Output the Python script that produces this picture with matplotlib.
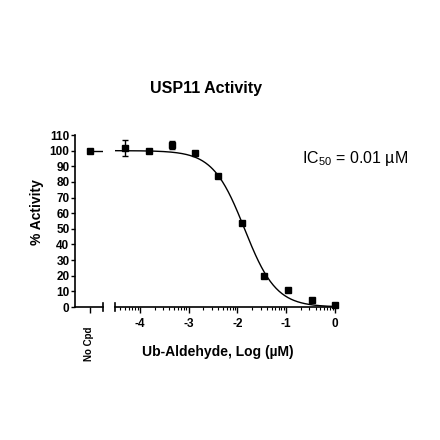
import numpy as np
import matplotlib
matplotlib.use("Agg")
import matplotlib.pyplot as plt

plt.rcParams['font.family'] = ['Liberation Sans', 'DejaVu Sans']
plt.rcParams['mathtext.fontset'] = 'custom'
plt.rcParams['mathtext.rm'] = 'Liberation Sans'
plt.rcParams['mathtext.it'] = 'Liberation Sans'

# ---- data ----
log_conc = [-4.30, -3.82, -3.35, -2.87, -2.39, -1.91, -1.45, -0.96, -0.48, 0.0]
activity = [101.5, 100.0, 103.6, 98.3, 83.8, 53.9, 20.0, 10.7, 4.5, 1.5]
activity_err = [5.0, 0.0, 2.4, 0.0, 0.0, 0.0, 0.0, 0.0, 0.0, 0.0]
no_cpd_value = 100.0
y_ticks = [0, 10, 20, 30, 40, 50, 60, 70, 80, 90, 100, 110]
x_ticks = [-4, -3, -2, -1, 0]
title = "USP11 Activity"
ic50_text = r"IC$_{50}$ = 0.01 µM"
fit_top = 100.0
fit_bottom = 0.0

x = np.array(log_conc)
y = np.array(activity)

# ---- normalized-response logistic fit (grid search over logIC50, hill) ----
best = None
for lic in np.linspace(-3, -1, 401):
    for h in np.linspace(0.5, 3, 251):
        pred = fit_bottom + (fit_top - fit_bottom) / (1.0 + 10 ** ((x - lic) * h))
        r = np.sum((pred - y) ** 2)
        if best is None or r < best[0]:
            best = (r, lic, h)
_, logic50, hill = best
xc = np.linspace(-4.51, 0, 300)
yc = fit_bottom + (fit_top - fit_bottom) / (1.0 + 10 ** ((xc - logic50) * hill))

fig = plt.figure(figsize=(4.4, 4.4), dpi=100)
W = H = 440.0
y0, y1 = 307.0, 135.0
bot = 1 - y0 / H
hgt = (y0 - y1) / H

ax1 = fig.add_axes([75 / W, bot, 28 / W, hgt])
ax2 = fig.add_axes([115 / W, bot, 220 / W, hgt])

for ax in (ax1, ax2):
    ax.set_ylim(0, 110)
    ax.patch.set_alpha(0)
    for s in ('top', 'right'):
        ax.spines[s].set_visible(False)
    ax.spines['bottom'].set_linewidth(1.2)

# No Cpd segment
ax1.set_xlim(-1.07, 0.93)
ax1.plot([0], [no_cpd_value], 's', color='black', ms=4.5, clip_on=False)
ax1.plot([0, 0.84], [no_cpd_value, no_cpd_value], '-', color='black', lw=1)
ax1.set_yticks(y_ticks)
ax1.set_yticklabels([str(v) for v in y_ticks], fontsize=8.5, fontweight='bold')
ax1.tick_params(axis='y', length=3, width=1, pad=1)
ax1.spines['left'].set_linewidth(1.2)
ax1.set_xticks([0])
ax1.set_xticklabels([''])
ax1.tick_params(axis='x', length=4, width=1)
ax1.plot([0.93, 0.93], [-2.3, 2.3], color='black', lw=1.2, clip_on=False)
fig.text(37.5 / W, 1 - 212.5 / H, "% Activity", rotation=90, ha='center', va='center',
         fontsize=10, fontweight='bold')
fig.text(89 / W, 1 - 327 / H, "No Cpd", rotation=90, ha='center', va='top',
         fontsize=7, fontweight='bold')

# log axis segment
ax2.spines['left'].set_visible(False)
ax2.set_yticks([])
ax2.set_xlim(-4.51, 0)
ax2.plot(xc, yc, '-', color='black', lw=1)
ax2.errorbar(x, y, yerr=activity_err, fmt='s', color='black', ms=4.5,
             elinewidth=1, capsize=2.5, capthick=1, clip_on=False)
ax2.set_xticks(x_ticks)
ax2.set_xticklabels([str(v) for v in x_ticks], fontsize=8.5, fontweight='bold')
minor = [d + np.log10(k) for d in range(-5, 0) for k in range(2, 10)]
minor = [m for m in minor if -4.51 <= m <= 0]
ax2.set_xticks(minor, minor=True)
ax2.tick_params(axis='x', which='major', length=4, width=1, pad=4)
ax2.tick_params(axis='x', which='minor', length=2, width=0.8)
ax2.plot([-4.51, -4.51], [-2.3, 2.3], color='black', lw=1.2, clip_on=False)

fig.text(217.5 / W, 1 - 351.7 / H, "Ub-Aldehyde, Log (µM)", ha='center', va='center',
         fontsize=10, fontweight='bold')
fig.text(205.5 / W, 1 - 89 / H, title, ha='center', va='center',
         fontsize=11.5, fontweight='bold')
fig.text(302 / W, 1 - 158 / H, ic50_text, ha='left', va='center', fontsize=11.5)

fig.savefig("out.png", dpi=100)
